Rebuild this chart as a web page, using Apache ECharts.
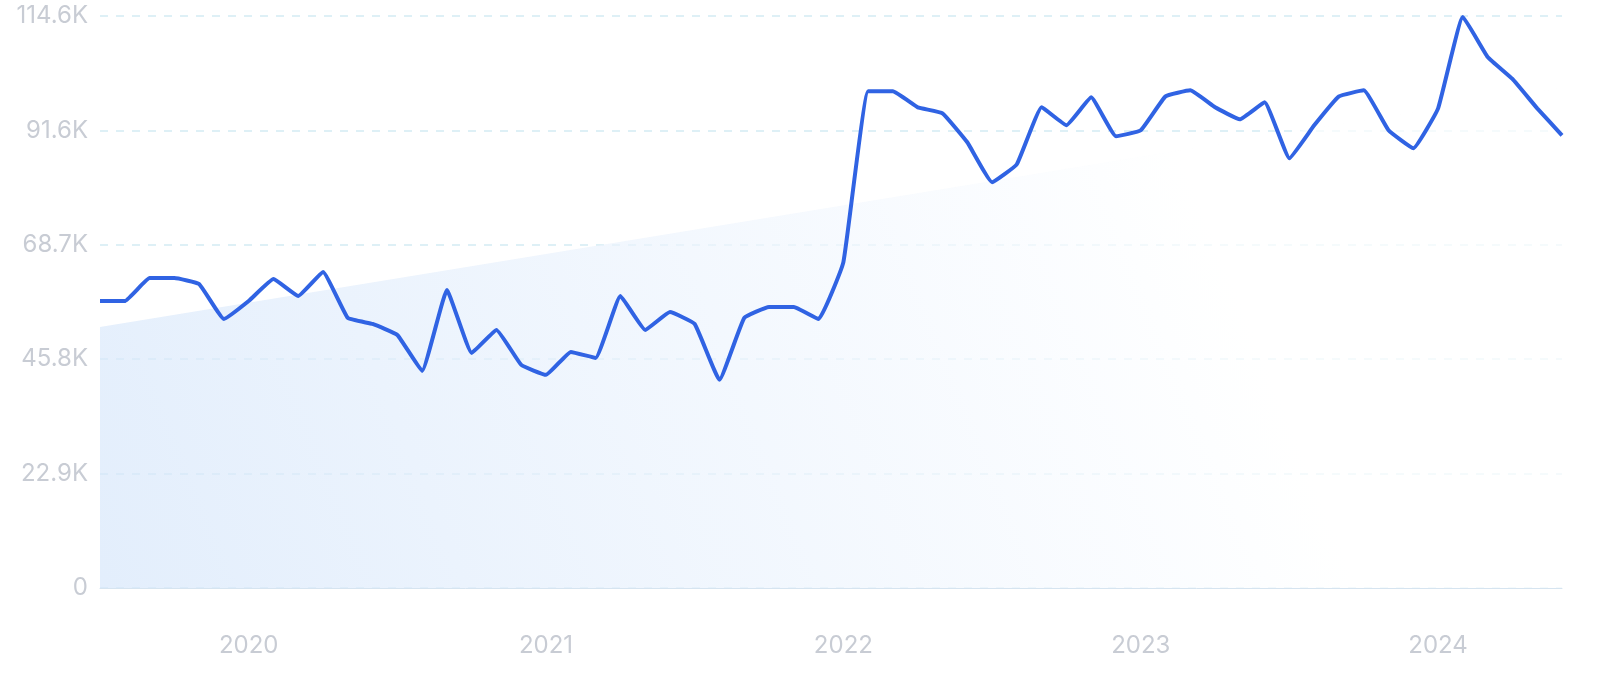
<!DOCTYPE html>
<html>
<head>
<meta charset="utf-8">
<script src="https://cdn.jsdelivr.net/npm/echarts@6/dist/echarts.min.js"></script>
<style>html,body{margin:0;padding:0;background:#fff}#main{width:1624px;height:700px}</style>
</head>
<body>
<div id="main"></div>
<script>
// monthly, Jul 2019 .. Jun 2024
var months = [];
for (var y = 2019; y <= 2024; y++) {
    for (var m = 1; m <= 12; m++) {
        if ((y === 2019 && m < 7) || (y === 2024 && m > 6)) continue;
        months.push(y + '-' + (m < 10 ? '0' + m : m));
    }
}
var values = [
    57.5, 57.5, 62.1, 62.1, 60.9, 53.9, 57.5, 61.9, 58.5, 63.3,
    54.1, 52.9, 50.7, 43.5, 59.7, 47.1, 51.7, 44.7, 42.7, 47.3,
    46.1, 58.5, 51.7, 55.3, 52.9, 41.7, 54.1, 56.3, 56.3, 53.9,
    65.3, 99.5, 99.5, 96.3, 95.1, 89.3, 81.3, 84.9, 96.3, 92.7,
    98.3, 90.5, 91.7, 98.5, 99.7, 96.3, 93.9, 97.3, 86.1, 92.7,
    98.5, 99.7, 91.7, 88.1, 96.1, 114.4, 106.4, 102.0, 96.1, 90.7
];
var trendStart = 52.3, trendEnd = 100.2;
var trend = months.map(function (d, i) {
    return i === 0 ? trendStart : (i === months.length - 1 ? trendEnd : null);
});
var yTicks = ['0', '22.9K', '45.8K', '68.7K', '91.6K', '114.6K'];

var chart = echarts.init(document.getElementById('main'));
chart.setOption({
    animation: false,
    grid: { left: 100, right: 62, top: 16, bottom: 112 },
    xAxis: {
        type: 'category',
        data: months,
        boundaryGap: false,
        axisLine: { lineStyle: { color: '#d6e4f0' } },
        axisTick: { show: false },
        axisLabel: {
            color: '#c8ccd4', fontSize: 24, fontFamily: 'Inter', margin: 46,
            interval: function (i, v) { return v.slice(5) === '01'; },
            formatter: function (v) { return v.slice(0, 4); }
        },
        splitLine: { show: false }
    },
    yAxis: {
        type: 'value', min: 0, max: 114.6, interval: 22.92,
        axisLine: { show: false },
        axisTick: { show: false },
        axisLabel: {
            color: '#c8ccd4', fontSize: 24, fontFamily: 'Inter', margin: 12,
            formatter: function (v) { return yTicks[Math.round(v / 22.92)]; }
        },
        splitLine: { lineStyle: { color: '#d3ebf3', type: [8, 8], width: 1.5 } }
    },
    series: [{
        type: 'line',
        data: trend,
        connectNulls: true,
        symbol: 'none',
        lineStyle: { width: 0 },
        areaStyle: {
            color: new echarts.graphic.LinearGradient(0, 1, 0.75, 0.1, [
                { offset: 0, color: 'rgba(214,230,250,1)' },
                { offset: 1, color: 'rgba(255,255,255,1)' }
            ])
        },
        z: 1
    }, {
        type: 'line',
        data: values,
        symbol: 'none',
        smooth: 0.1,
        lineStyle: { color: '#3063e3', width: 4 },
        z: 3
    }]
});
</script>
</body>
</html>
